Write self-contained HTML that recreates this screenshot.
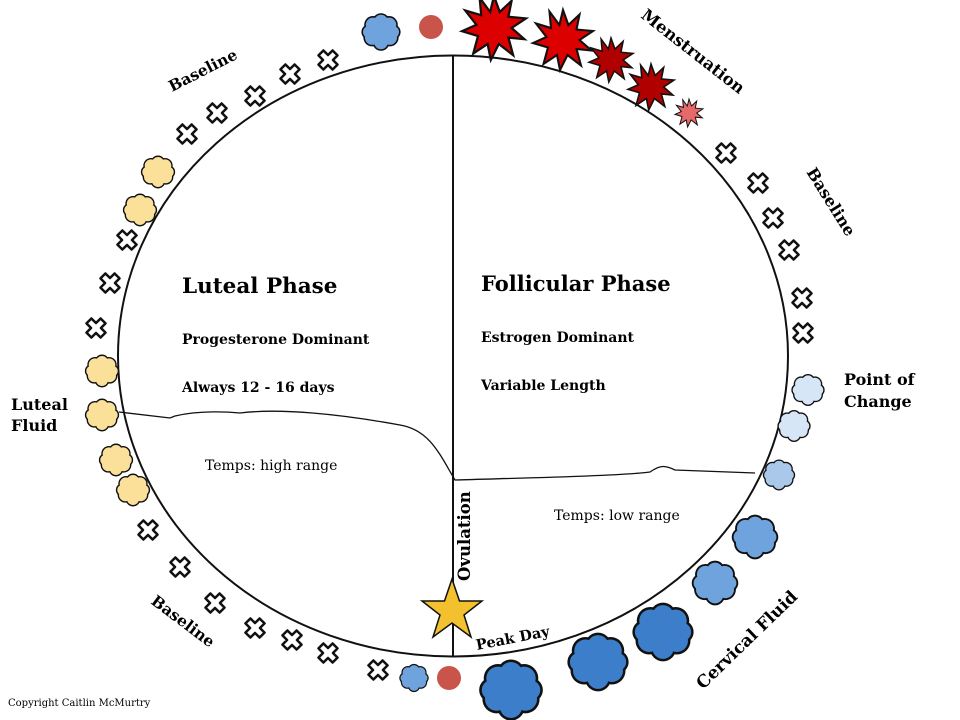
<!DOCTYPE html>
<html><head><meta charset="utf-8"><style>
html,body{margin:0;padding:0;background:#fff;width:960px;height:720px;overflow:hidden}
svg{display:block}
text{font-family:"DejaVu Serif","Liberation Serif",serif}
.b{font-weight:bold}
</style></head><body>
<svg width="960" height="720" viewBox="0 0 960 720" xmlns="http://www.w3.org/2000/svg">
<defs>
<g id="cl">
 <g fill="#111">
  <circle cx="0" cy="0" r="16"/><circle cx="-10" cy="-9" r="11"/><circle cx="10" cy="-9" r="11"/>
  <circle cx="-11" cy="7" r="11"/><circle cx="11" cy="7" r="11"/><circle cx="0" cy="-13" r="10.5"/>
  <circle cx="0" cy="13" r="10.5"/><circle cx="-15" cy="0" r="9.5"/><circle cx="15" cy="0" r="9.5"/>
 </g>
 <g>
  <circle cx="0" cy="0" r="14"/><circle cx="-10" cy="-9" r="9"/><circle cx="10" cy="-9" r="9"/>
  <circle cx="-11" cy="7" r="9"/><circle cx="11" cy="7" r="9"/><circle cx="0" cy="-13" r="8.5"/>
  <circle cx="0" cy="13" r="8.5"/><circle cx="-15" cy="0" r="7.5"/><circle cx="15" cy="0" r="7.5"/>
 </g>
</g>
<path id="x" d="M-3.5,-10 h7 v6.5 h6.5 v7 h-6.5 v6.5 h-7 v-6.5 h-6.5 v-7 h6.5z" transform="rotate(45)" fill="#fff" stroke="#111" stroke-width="2.5" stroke-linejoin="round"/>
<polygon id="st" points="0,-1 0.18,-0.5 0.55,-0.85 0.45,-0.35 1,-0.3 0.55,0 0.95,0.35 0.45,0.3 0.6,0.85 0.15,0.5 -0.1,1 -0.2,0.5 -0.65,0.8 -0.5,0.25 -1,0.1 -0.55,-0.1 -0.9,-0.55 -0.4,-0.4 -0.45,-0.95 -0.12,-0.5" stroke="#111" stroke-width="0.07" stroke-linejoin="miter"/>
</defs>

<ellipse cx="453" cy="356" rx="335" ry="300.5" fill="none" stroke="#111" stroke-width="2"/>
<line x1="453" y1="56" x2="453" y2="657" stroke="#111" stroke-width="2"/>
<path d="M119,412 L170,418 L175,416 C200,410 230,412 240,413 C280,408 340,414 400,425 C430,430 440,455 455,480 C520,478 620,476 650,472 C660,465 665,465 675,470 L755,473" fill="none" stroke="#111" stroke-width="1.3"/>

<use href="#x" x="328" y="60"/><use href="#x" x="290" y="74"/><use href="#x" x="255" y="96"/>
<use href="#x" x="217" y="113"/><use href="#x" x="187" y="134"/><use href="#x" x="127" y="240"/>
<use href="#x" x="110" y="283"/><use href="#x" x="96" y="328"/><use href="#x" x="148" y="530"/>
<use href="#x" x="180" y="567"/><use href="#x" x="215" y="603"/><use href="#x" x="255" y="628"/>
<use href="#x" x="292" y="640"/><use href="#x" x="328" y="653"/><use href="#x" x="378" y="670"/>
<use href="#x" x="726" y="153"/><use href="#x" x="758" y="183"/><use href="#x" x="773" y="218"/>
<use href="#x" x="789" y="250"/><use href="#x" x="802" y="298"/><use href="#x" x="803" y="333"/>

<g fill="#fbe09a">
<use href="#cl" transform="translate(158,172) scale(0.7)"/><use href="#cl" transform="translate(140,210) scale(0.7)"/>
<use href="#cl" transform="translate(102,371) scale(0.7)"/><use href="#cl" transform="translate(102,415) scale(0.7)"/>
<use href="#cl" transform="translate(116,460) scale(0.7)"/><use href="#cl" transform="translate(133,490) scale(0.7)"/>
</g>
<g fill="#d6e6f6">
<use href="#cl" transform="translate(808,390) scale(0.68)"/><use href="#cl" transform="translate(794,426) scale(0.68)"/>
</g>
<g fill="#a9c8ea"><use href="#cl" transform="translate(779,475) scale(0.66)"/></g>
<g fill="#6fa3de">
<use href="#cl" transform="translate(381,32) scale(0.8)"/><use href="#cl" transform="translate(414,678) scale(0.6)"/>
<use href="#cl" transform="translate(755,537) scale(0.95)"/><use href="#cl" transform="translate(715,583) scale(0.95)"/>
</g>
<g fill="#3d7ecb">
<use href="#cl" transform="translate(663,632) scale(1.25)"/><use href="#cl" transform="translate(598,662) scale(1.25)"/>
<use href="#cl" transform="translate(511,690) scale(1.3)"/>
</g>
<circle cx="431" cy="27" r="12" fill="#c9544a"/>
<circle cx="449" cy="678" r="12" fill="#c9544a"/>

<use href="#st" fill="#dd0000" transform="translate(494,28) scale(32)"/>
<use href="#st" fill="#dd0000" transform="translate(563,40) scale(30)"/>
<use href="#st" fill="#b00000" transform="translate(611,60) scale(22)"/>
<use href="#st" fill="#b00000" transform="translate(651,87) scale(23)"/>
<use href="#st" fill="#e76a6a" transform="translate(689,113) scale(14)"/>

<polygon points="0,-32 7.5,-10 30,-10 12,4 19,26 0,12 -19,26 -12,4 -30,-10 -7.5,-10" transform="translate(452,611)" fill="#f3c12e" stroke="#111" stroke-width="1.5"/>

<text x="182" y="293" class="b" font-size="21.5">Luteal Phase</text>
<text x="182" y="344" class="b" font-size="14">Progesterone Dominant</text>
<text x="182" y="392" class="b" font-size="14">Always 12 - 16 days</text>
<text x="481" y="291" class="b" font-size="21">Follicular Phase</text>
<text x="481" y="342" class="b" font-size="14">Estrogen Dominant</text>
<text x="481" y="390" class="b" font-size="14">Variable Length</text>
<text x="205" y="470" font-size="14">Temps: high range</text>
<text x="554" y="520" font-size="14">Temps: low range</text>
<text x="844" y="385" class="b" font-size="16">Point of</text>
<text x="844" y="407" class="b" font-size="16">Change</text>
<text x="11" y="410" class="b" font-size="16">Luteal</text>
<text x="11" y="431" class="b" font-size="16">Fluid</text>
<text class="b" font-size="15.5" transform="translate(172,92) rotate(-27)">Baseline</text>
<text class="b" font-size="16.5" transform="translate(640,17) rotate(38)">Menstruation</text>
<text class="b" font-size="16" transform="translate(806,172) rotate(58)">Baseline</text>
<text class="b" font-size="15.5" transform="translate(150,603) rotate(37)">Baseline</text>
<text class="b" font-size="17" transform="translate(703,690) rotate(-44)">Cervical Fluid</text>
<text class="b" font-size="14.5" transform="translate(477,650) rotate(-11)">Peak Day</text>
<text class="b" font-size="16.5" transform="translate(470,581) rotate(-90)">Ovulation</text>
<text x="8" y="706" font-size="10">Copyright Caitlin McMurtry</text>
</svg>
</body></html>
